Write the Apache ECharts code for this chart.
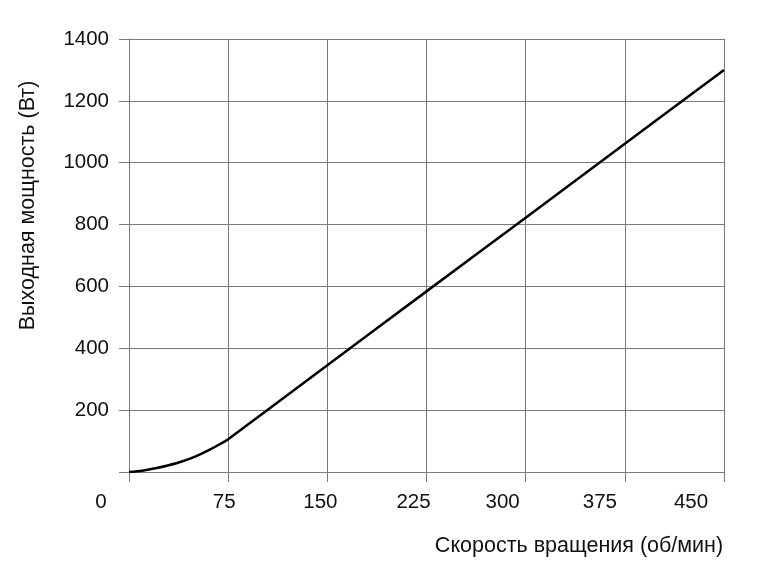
<!DOCTYPE html>
<html><head><meta charset="utf-8">
<script src="https://cdn.jsdelivr.net/npm/echarts@6/dist/echarts.min.js"></script>
<style>html,body{margin:0;padding:0;background:#fff}#c{width:760px;height:570px}</style>
</head><body><div id="c"></div>
<script>
// Data
const speedRpm = [0, 10, 20, 30, 40, 50, 60, 70, 75, 150, 225, 300, 375, 450];
const powerW   = [0, 4, 12, 22, 34, 50, 70, 93, 106, 345, 584, 822, 1061, 1300];
const xTickLabels = ['0', '75', '150', '225', '300', '375', '450'];
const yTickLabels = ['200', '400', '600', '800', '1000', '1200', '1400'];
const xTitle = 'Скорость вращения (об/мин)';
const yTitle = 'Выходная мощность (Вт)';

// Style: per-label horizontal shift (padding right, px) of x labels
const xLabelShift = {'0': 56, '75': 8, '150': 14, '225': 26, '300': 46, '375': 50, '450': 66};

const font = 'Liberation Sans, Arial, sans-serif';
const labelSize = 20.5;
const titleSize = 21.5;
const rich = {};
Object.keys(xLabelShift).forEach((k, i) => {
  rich['s' + i] = {padding: [0, xLabelShift[k], 0, 0], fontSize: labelSize, color: '#111', fontFamily: font};
});

const chart = echarts.init(document.getElementById('c'), null, {renderer: 'canvas'});
chart.setOption({
  animation: false,
  backgroundColor: '#fff',
  grid: {left: 129, right: 36, top: 39, bottom: 98, containLabel: false, outerBoundsMode: 'none'},
  xAxis: {
    type: 'value', min: 0, max: 450, interval: 75,
    name: xTitle, nameLocation: 'middle', nameGap: 63,
    nameTextStyle: {fontSize: titleSize, color: '#111', fontFamily: font, lineHeight: 22, padding: [0, 0, 0, 305]},
    axisLine: {show: true, lineStyle: {color: '#7a7a7a', width: 1}},
    axisTick: {show: true, length: 10, inside: false, lineStyle: {color: '#7a7a7a'}},
    splitLine: {show: true, lineStyle: {color: '#7a7a7a', width: 1}},
    axisLabel: {
      margin: 20, fontSize: labelSize, color: '#111', fontFamily: font,
      formatter: function (v) {
        const s = String(v);
        const i = xTickLabels.indexOf(s);
        return i < 0 ? '' : '{s' + i + '|' + xTickLabels[i] + '}';
      },
      rich: rich
    }
  },
  yAxis: {
    type: 'value', min: 0, max: 1400, interval: 200,
    name: yTitle, nameLocation: 'middle', nameGap: 90, nameRotate: 90,
    nameTextStyle: {fontSize: titleSize, color: '#111', fontFamily: font, padding: [0, 0, 0, 100]},
    axisLine: {show: true, lineStyle: {color: '#7a7a7a', width: 1}},
    axisTick: {show: true, length: 10, inside: false, lineStyle: {color: '#7a7a7a'}},
    splitLine: {show: true, lineStyle: {color: '#7a7a7a', width: 1}},
    axisLabel: {
      margin: 20, fontSize: labelSize, color: '#111', fontFamily: font,
      formatter: function (v) { const s = String(v); return yTickLabels.indexOf(s) < 0 ? '' : s; }
    }
  },
  series: [{
    type: 'line',
    data: speedRpm.map((x, i) => [x, powerW[i]]),
    smooth: 0.3,
    showSymbol: false,
    lineStyle: {color: '#000', width: 2.5},
    z: 5
  }]
});
</script></body></html>
